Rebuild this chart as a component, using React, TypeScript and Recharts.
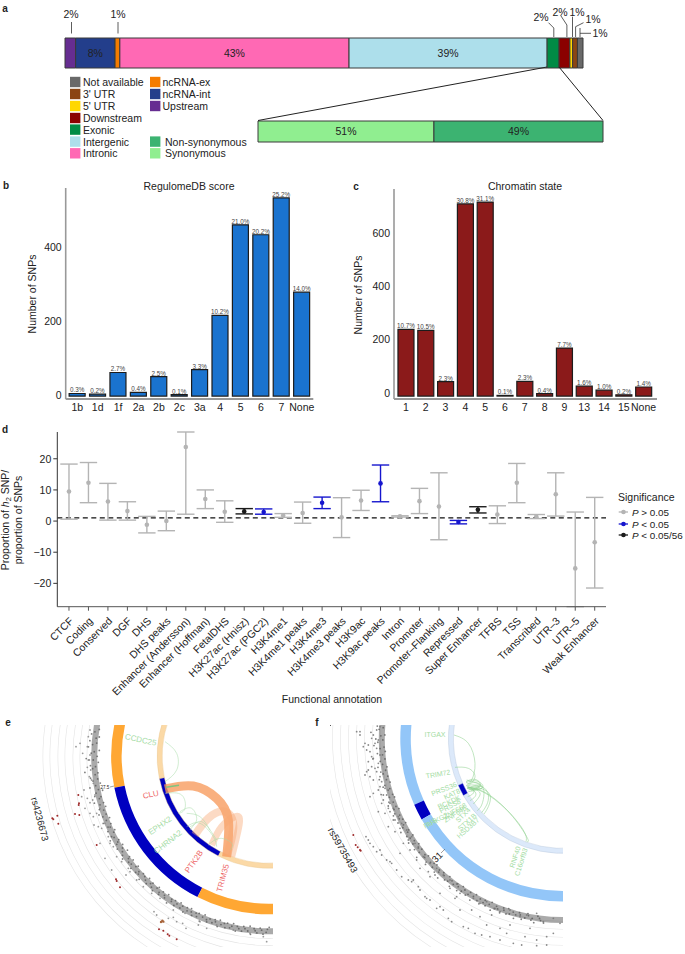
import React from 'react';
import { BarChart, Bar, XAxis, YAxis, LabelList, ComposedChart, Scatter, ErrorBar, ReferenceLine, PieChart, Pie, Cell, Line } from 'recharts';

const FONT = '"Liberation Sans", Arial, sans-serif';

// Panel a
const regionNames = ['Upstream', 'ncRNA-int', 'ncRNA-ex', 'Intronic', 'Intergenic', 'Exonic', 'Downstream', "5' UTR", "3' UTR", 'Not available'];
const regionShares = [2.05, 7.6, 0.93, 44.2, 38.2, 2.3, 2.1, 0.52, 0.93, 1.07];
const regionColors = ['#662D91', '#233E8B', '#F57C00', '#FF69B4', '#ADDFEB', '#008B45', '#8B0000', '#FFD700', '#8B4513', '#696969'];
const regionLabels = ['', '8%', '', '43%', '39%', '', '', '', '', ''];
const exonicNames = ['Synonymous', 'Non-synonymous'];
const exonicShares = [51, 49];
const exonicColors = ['#90EE90', '#3CB371'];
const exonicLabels = ['51%', '49%'];
const legendCol1 = ['Not available', "3' UTR", "5' UTR", 'Downstream', 'Exonic', 'Intergenic', 'Intronic'];
const legendCol1Colors = ['#696969', '#8B4513', '#FFD700', '#8B0000', '#008B45', '#ADDFEB', '#FF69B4'];
const legendCol2 = ['ncRNA-ex', 'ncRNA-int', 'Upstream'];
const legendCol2Colors = ['#F57C00', '#233E8B', '#662D91'];
const legendCol3 = ['Non-synonymous', 'Synonymous'];
const legendCol3Colors = ['#3CB371', '#90EE90'];

// Panel b
const rdbCats = ['1b', '1d', '1f', '2a', '2b', '2c', '3a', '4', '5', '6', '7', 'None'];
const rdbCounts = [7, 5, 64, 10, 53, 4, 72, 219, 465, 438, 538, 282];
const rdbPct = ['0.3%', '0.2%', '2.7%', '0.4%', '2.5%', '0.1%', '3.3%', '10.2%', '21.0%', '20.2%', '25.2%', '14.0%'];
// Panel c
const chromCats = ['1', '2', '3', '4', '5', '6', '7', '8', '9', '13', '14', '15', 'None'];
const chromCounts = [250, 246, 54, 720, 727, 2.5, 55, 9, 180, 37, 22, 5, 34];
const chromPct = ['10.7%', '10.5%', '2.3%', '30.8%', '31.1%', '0.1%', '2.3%', '0.4%', '7.7%', '1.6%', '1.0%', '0.2%', '1.4%'];

// Panel d
const annotNames = ['CTCF', 'Coding', 'Conserved', 'DGF', 'DHS', 'DHS peaks', 'Enhancer (Andersson)', 'Enhancer (Hoffman)', 'FetalDHS', 'H3K27ac (Hnisz)', 'H3K27ac (PGC2)', 'H3K4me1', 'H3K4me1 peaks', 'H3K4me3', 'H3K4me3 peaks', 'H3K9ac', 'H3K9ac peaks', 'Intron', 'Promoter', 'Promoter\u2013Flanking', 'Repressed', 'Super Enhancer', 'TFBS', 'TSS', 'Transcribed', 'UTR\u20133', 'UTR\u20135', 'Weak Enhancer'];
const annotMean = [9.5, 12.3, 6.3, 3.2, -1.2, 0, 23.8, 7.1, 3, 3.1, 2.9, 1.8, 2.6, 5.9, 1.2, 6.6, 12.1, 1.5, 6.4, 4.7, -0.3, 3.6, 2.1, 12.3, 1.5, 8.6, -15.2, -6.8];
const annotLow = [0.6, 5.9, 0.3, 0.3, -3.8, -3.1, 2.2, 4, -0.4, 2.3, 2.2, 1.2, -0.7, 4, -5.3, 3.4, 6.2, 1.3, 2.4, -6, -0.9, 2.6, -0.8, 5.9, 0.8, 1.6, -27.5, -21.5];
const annotHigh = [18.3, 18.8, 12.1, 6.2, 1.5, 3.2, 28.6, 10, 6.5, 4, 3.9, 2.4, 6.1, 7.7, 7.5, 9.9, 18, 1.7, 10.5, 15.5, 0.2, 4.6, 4.9, 18.5, 2.1, 15.5, 2.9, 7.6];
const annotSig = ['n', 'n', 'n', 'n', 'n', 'n', 'n', 'n', 'n', 'k', 'b', 'n', 'n', 'b', 'n', 'n', 'b', 'n', 'n', 'n', 'b', 'k', 'n', 'n', 'n', 'n', 'n', 'n'];
const sigLevels = ['n', 'b', 'k'];
const sigColors = { n: '#B4B4B4', b: '#1616CE', k: '#1C1C1C' };

const annotRows = annotNames.map((name, i) => ({ x: i, y: annotMean[i], name, err: [annotMean[i] - annotLow[i], annotHigh[i] - annotMean[i]], sig: annotSig[i] }));
const annotTicks = annotNames.map((_, i) => i);

// Panel e (circular plot, read in picture units)
const eOuterSectors = [31.5, 51.5, 32];
const eOuterColors = ['#FFA733', '#0000C0', '#FFA733'];
const eInnerColors = ['#FBD9A6', '#0000C0', '#FBD9A6'];
const eGridRadii = [182, 189, 196, 204, 211, 219, 226];
const eBandA = [171,172,172.8,173.5,174,175,175.6,176.2,177,178,178.5,179,180,180.7,181.2,182,183,183.4,184,185,185.5,186,187,187.5,188,189,189.6,190,191,191.5,192,193,193.5,194,195,195.6,196,197,197.4,198,199,199.5,200,201,201.5,202,203,203.7,204,205,205.4,206,207,207.6,208,209,209.5,210,211,211.4,212,213,213.5,214,215,215.7,216,217,217.3,218,219,219.6,220,221,221.5,222,223,223.4,224,225,225.6,226,227,227.5,228,229,229.6,230,231,231.3,232,233,233.5,234,235,235.7,236,237,237.4,238,239,239.5,240,241,241.6,242,243,243.4,244,245,245.6,246,247,247.5,248,249,249.3,250,251,251.7,252,253,253.4,254,255,255.5,256,257,257.6,258,259,259.4,260,261,261.5,262,263,263.6,264,265,265.4,266,267,267.5,268,269,269.4,270];
const eBandR = [172,176,179,171,174,180,173,177,181,170,175,178,172,183,176,171,179,174,177,185,172,175,180,173,178,171,176,182,174,170,177,179,173,175,181,172,176,171,178,174,180,173,177,171,175,179,172,176,174,178,171,173,177,175,180,172,174,176,171,178,173,175,170,177,179,172,174,176,171,175,178,173,171,177,174,176,172,179,173,175,171,177,174,172,176,178,173,171,175,177,172,174,176,171,179,173,175,172,177,174,171,176,173,178,172,175,171,174,177,173,176,172,179,174,171,175,177,173,176,172,174,178,171,175,173,177,172,176,174,171,178,173,175,177,172,174,176,171,179,173,175,177,172,174,178,176,173,171,175,179];
const eOutliers = [[228,200],[240,190],[248,220],[252,330],[262,355],[270,368],[255,385],[282,435],[295,440],[300,490],[315,535],[335,570],[378,585],[390,575],[462,695],[470,705],[505,715],[520,712],[530,725],[548,730],[558,745],[595,735],[620,745],[800,785],[280,410],[270,400],[268,240],[262,262],[275,300],[245,350],[270,150],[265,170],[262,200],[270,225],[265,240],[272,270],[268,290],[280,310],[285,345],[278,360],[300,385],[290,400],[315,430],[305,445],[325,470],[340,500],[330,490],[350,530],[365,545],[385,565],[410,600],[430,620],[455,640],[480,655],[520,690],[555,700],[600,725],[650,735],[700,750],[750,760],[790,770]];
const eHits = [[157,415],[160,418],[172,407],[175,431],[235,345],[237,370],[236,375],[225,402],[238,405],[290,495],[348,598],[350,603],[360,622],[477,748],[490,752],[503,763],[508,767],[530,778]];
const eLeadHits = [[487,722],[490,725],[483,726]];
const eRibbonMain = [[495,327],[580,318],[650,355],[685,420],[680,530]];
const eRibbonB = [[585,465],[625,415],[675,395],[700,440],[680,530]];
const eRibbonC = [[635,495],[665,440],[705,410],[718,430],[695,530]];
const eGreenLinks = [
  [[495,185],[530,220],[530,270],[495,305]],
  [[495,340],[545,345],[555,385],[535,400]],
  [[540,395],[575,385],[590,420],[570,440]],
  [[560,440],[600,430],[640,470],[650,500]],
  [[625,495],[660,475],[695,490],[690,510]],
  [[560,400],[600,410],[630,450]],
  [[570,450],[605,425],[650,480]],
];
const eGreenRibbon = [[498,322],[537,316]];
const eLabels = [
  { t: 'CCDC25', x: 140.7, y: 740, a: 12, c: '#A6DCA6' },
  { t: 'CLU', x: 150.7, y: 794.7, a: -12, c: '#EE6A6A' },
  { t: 'EPHX2', x: 160, y: 825.7, a: -35, c: '#A6DCA6' },
  { t: 'CHRNA2', x: 168, y: 842, a: -38, c: '#A6DCA6' },
  { t: 'PTK2B', x: 194, y: 861.7, a: -55, c: '#EE6A6A' },
  { t: 'TRIM35', x: 223, y: 878, a: -75, c: '#EE6A6A' },
];

// Panel f
const fOuterSectors = [43.9, 5.8, 65.3];
const fOuterColors = ['#93C6F8', '#0000C0', '#93C6F8'];
const fInnerColors = ['#DCE9FA', '#0000C0', '#DCE9FA'];
const fGridRadii = [182, 190, 198, 206, 214, 222, 230, 238, 246];
const fBandA = [171,171.8,172.5,173,174,174.6,175,176,176.4,177,178,178.7,179,180,180.3,181,182,182.6,183,184,184.5,185,186,186.4,187,188,188.7,189,190,190.3,191,192,192.5,193,194,194.6,195,196,196.3,197,198,198.6,199,200,200.4,201,202,202.7,203,204,204.4,205,206,206.6,207,208,208.3,209,210,210.5,211,212,212.6,213,214,214.4,215,216,216.7,217,218,218.3,219,220,220.6,221,222,222.4,223,224,224.5,225,226,226.7,227,228,228.3,229,230,230.6,231,232,232.4,233,234,234.7,235,236,236.3,237,238,238.6,239,240,240.4,241,242,242.7,243,244,244.3,245,246,246.6,247,248,248.4,249,250,250.7,251,252,252.3,253,254,254.6,255,256,256.4,257,258,258.7,259,260,260.3,261,262,262.6,263,264,264.4,265,266,266.7,267,268,268.3,269,269.6];
const fBandR = [181,185,179,188,183,178,190,186,180,184,192,178,182,187,180,185,189,179,183,178,186,181,191,179,184,182,187,178,180,185,183,179,188,181,178,184,186,180,182,190,179,183,178,185,181,187,180,183,178,184,186,180,182,179,185,178,181,183,187,179,181,184,178,182,186,180,183,178,185,181,179,183,188,180,182,178,184,186,181,179,183,178,185,180,182,187,179,181,184,178,183,180,186,182,179,181,185,178,183,180,184,182,179,186,181,178,183,180,185,182,179,184,181,178,186,183,180,182,185,179,181,184,178,183,180,186,182,179,181,185,183,178,180,184,182,186,179,181,183,185];
const fOutliers = [[78,470],[90,490],[100,500],[110,515],[125,525],[140,540],[155,550],[170,570],[185,590],[205,600],[220,600],[235,620],[240,630],[255,650],[270,660],[290,685],[310,690],[325,715],[335,725],[370,740],[385,745],[405,760],[425,765],[450,770],[480,780],[520,790],[545,795],[590,797],[620,795],[70,200],[80,210],[75,285],[90,290],[100,340],[120,320],[125,370],[90,350],[115,395],[135,400],[145,440],[165,455],[190,490],[180,520],[210,510],[230,540],[240,565],[265,575],[270,590],[300,640],[330,625],[350,650],[395,690],[420,710],[455,705],[510,735],[570,745],[620,770],[640,760],[60,155],[50,155],[75,190],[60,165],[95,230],[105,265],[85,270],[130,345],[150,395],[160,420],[85,480],[120,510],[150,545],[215,605],[260,655],[300,680],[345,655],[360,690],[440,735],[480,745],[500,760],[555,770],[590,780],[120,140],[110,150],[100,165],[95,175],[115,180],[105,190],[85,195],[110,205],[90,215],[120,225],[100,235],[85,245],[115,250],[95,260],[80,275],[110,275],[120,290],[100,300],[125,305],[135,325],[115,330],[140,345],[130,360],[150,370],[160,385],[145,385],[175,410],[165,420],[185,430],[200,450],[180,445],[215,470],[205,480],[235,500],[250,530],[225,490],[270,550],[290,565],[310,585],[285,585],[330,600],[350,612],[375,630],[360,640],[400,655],[420,670],[440,665],[465,685],[480,695],[510,690],[540,710],[560,705],[590,700],[610,725],[640,715],[660,730]];
const fHits = [[40,465],[47,495],[53,502],[60,510],[62,512]];
const fLinks = [
  [[342,165],[385,190],[405,250],[395,300],[378,318]],
  [[345,262],[385,265],[405,290],[385,318]],
  [[385,322],[440,340],[510,400],[560,470],[562,485]],
  [[385,320],[445,345],[515,405],[555,460],[558,485]],
  [[382,325],[420,315],[432,340],[425,375],[412,392]],
  [[382,325],[425,320],[445,345],[440,375],[425,398]],
  [[382,325],[420,325],[450,345],[445,380],[432,402]],
  [[382,322],[410,330],[420,345],[400,372]],
  [[382,322],[405,335],[405,350],[390,362]],
  [[380,318],[400,330],[398,342],[383,350]],
  [[378,305],[405,298],[420,315],[385,330]],
  [[378,308],[410,303],[428,322],[385,335]],
  [[380,300],[412,310],[425,325],[388,328]],
  [[380,312],[408,308],[422,318],[392,332]],
  [[382,316],[405,315],[418,322],[395,330]],
];
const fLabels = [
  { t: 'ITGAX', x: 435, y: 734.5, a: 0, s: 7 },
  { t: 'TRIM72', x: 438, y: 774, a: -10, s: 7 },
  { t: 'PRSS36', x: 444, y: 789, a: -22, s: 7 },
  { t: 'KAT8', x: 452, y: 794, a: -25, s: 7 },
  { t: 'BCKDK', x: 449, y: 802, a: -25, s: 7 },
  { t: 'PRSS8', x: 450, y: 806, a: -28, s: 7 },
  { t: 'ZNF668', x: 455, y: 811, a: -30, s: 7 },
  { t: 'ZNF646', x: 455, y: 814, a: -32, s: 7 },
  { t: 'FUS', x: 430, y: 823, a: -30, s: 7 },
  { t: 'PHKG2', x: 437, y: 820, a: -30, s: 7 },
  { t: 'STX4', x: 463, y: 815, a: -45, s: 7 },
  { t: 'STX1B', x: 467, y: 822, a: -42, s: 7 },
  { t: 'HSD3B7', x: 468, y: 828, a: -42, s: 7 },
  { t: 'RNF40', x: 515, y: 857, a: -72, s: 7 },
  { t: 'C16orf93', x: 521, y: 862, a: -72, s: 7 },
];

const axisTick = { fontSize: 10.5, fill: '#222', fontFamily: FONT };
const toRows = (cats: string[], vals: number[], pct: string[]) => cats.map((c, i) => ({ c, v: vals[i], p: pct[i] }));
const toXY = (pts: number[][]) => pts.map(([x, y]) => ({ x, y }));
const polar = (cx: number, cy: number, A: number[], R: number[]) => A.map((a, i) => ({
  x: cx + 3 * R[i] * Math.cos((a * Math.PI) / 180),
  y: cy - 3 * R[i] * Math.sin((a * Math.PI) / 180),
}));

const abs = (left: number, top: number, width: number, height: number): React.CSSProperties => ({ position: 'absolute', left, top, width, height, overflow: 'hidden' });

function PctBars({ rows, left, top, w, h, yW, xH, mTop, mRight, dom, ticks, fill, dy, pad, gap }: any) {
  return (
    <div style={abs(left, top, w, h)}>
      <BarChart width={w} height={h} data={rows} margin={{ top: mTop, right: mRight, left: 0, bottom: 0 }} barCategoryGap={gap}>
        <XAxis dataKey="c" interval={0} height={xH} tickLine={false} tickSize={0} tickMargin={5} padding={pad} axisLine={{ stroke: '#333', strokeWidth: 1 }} tick={axisTick} />
        <YAxis type="number" domain={dom} ticks={ticks} width={yW} tickLine={false} tickSize={0} tickMargin={4} axisLine={{ stroke: '#999', strokeWidth: 1.6 }} tick={{ ...axisTick, dy }} />
        <Bar dataKey="v" fill={fill} stroke="#1c1c1c" strokeWidth={1.2} isAnimationActive={false}>
          <LabelList dataKey="p" position="top" offset={1} style={{ fontSize: 6.3, fill: '#444', fontFamily: FONT }} />
        </Bar>
      </BarChart>
    </div>
  );
}

function Stack({ names, shares, colors, labels, left, top, w, h }: any) {
  const row: any = { k: 'all' };
  names.forEach((n: string, i: number) => { row[n] = shares[i]; });
  const total = shares.reduce((a: number, b: number) => a + b, 0);
  return (
    <div style={abs(left, top, w, h)}>
      <BarChart layout="vertical" width={w} height={h} data={[row]} margin={{ top: 1, right: 1, left: 1, bottom: 1 }} barCategoryGap={0}>
        <XAxis type="number" hide domain={[0, total]} />
        <YAxis type="category" dataKey="k" hide />
        {names.map((n: string, i: number) => (
          <Bar key={n} dataKey={n} stackId="s" fill={colors[i]} stroke="#3a3a3a" strokeWidth={1} isAnimationActive={false}>
            {labels[i] ? <LabelList dataKey={n} position="center" formatter={() => labels[i]} style={{ fontSize: 10.5, fill: '#222', fontFamily: FONT }} /> : null}
          </Bar>
        ))}
      </BarChart>
    </div>
  );
}

const dotShape = (r: number, fill: string, opacity = 1) => (p: any) => <circle cx={p.cx} cy={p.cy} r={r} fill={fill} fillOpacity={opacity} />;

function Rings({ cx, cy, w, h, outer, inner, sectors, grid, innerEdge, ringOut, ringIn, band }: any) {
  const rows = sectors.map((v: number, i: number) => ({ i, v }));
  const whole = [{ v: 1 }];
  return (
    <PieChart width={w} height={h} margin={{ top: 0, right: 0, left: 0, bottom: 0 }} style={{ position: 'absolute', left: 0, top: 0 }}>
      {grid.map((r: number) => (
        <Pie key={r} data={whole} dataKey="v" cx={cx} cy={cy} innerRadius={r} outerRadius={r + 0.6} startAngle={150} endAngle={290} stroke="none" fill="#E4E4E4" isAnimationActive={false} />
      ))}
      <Pie data={whole} dataKey="v" cx={cx} cy={cy} innerRadius={band[0]} outerRadius={band[1]} startAngle={150} endAngle={290} stroke="none" fill="#555" fillOpacity={0.5} isAnimationActive={false} />
      <Pie data={rows} dataKey="v" cx={cx} cy={cy} innerRadius={ringOut[0]} outerRadius={ringOut[1]} startAngle={160} endAngle={275} stroke="none" isAnimationActive={false}>
        {outer.map((c: string, i: number) => <Cell key={i} fill={c} />)}
      </Pie>
      <Pie data={rows} dataKey="v" cx={cx} cy={cy} innerRadius={ringIn[0]} outerRadius={ringIn[1]} startAngle={160} endAngle={275} stroke={innerEdge} strokeWidth={0.4} isAnimationActive={false}>
        {inner.map((c: string, i: number) => <Cell key={i} fill={c} />)}
      </Pie>
    </PieChart>
  );
}

function Links({ w, h, xDom, yDom, children }: any) {
  return (
    <ComposedChart width={w} height={h} margin={{ top: 0, right: 0, left: 0, bottom: 0 }} style={{ position: 'absolute', left: 0, top: 0 }}>
      <XAxis type="number" dataKey="x" hide domain={xDom} allowDataOverflow />
      <YAxis type="number" dataKey="y" hide domain={yDom} reversed allowDataOverflow />
      {children}
    </ComposedChart>
  );
}

const curve = (pts: number[][], stroke: string, width: number, opacity: number, key: string) => (
  <Line key={key} data={toXY(pts)} dataKey="y" type="natural" stroke={stroke} strokeWidth={width} strokeOpacity={opacity} dot={false} legendType="none" strokeLinecap="butt" isAnimationActive={false} />
);
const points = (rows: any[], r: number, fill: string, opacity: number, key: string) => (
  <Scatter key={key} data={rows} dataKey="y" shape={dotShape(r, fill, opacity)} isAnimationActive={false} />
);

const Txt = ({ x, y, a = 0, s = 10.5, c = '#222', w = 'normal', anchor = 'middle', children }: any) => (
  <text x={x} y={y} fontSize={s} fill={c} fontWeight={w} textAnchor={anchor} dominantBaseline="central" fontFamily={FONT} transform={a ? `rotate(${a} ${x} ${y})` : undefined}>{children}</text>
);

export default function App() {
  const rdbRows = toRows(rdbCats, rdbCounts, rdbPct);
  const chromRows = toRows(chromCats, chromCounts, chromPct);
  return (
    <div style={{ position: 'absolute', left: 0, top: 0, width: 685, height: 954, background: '#fff', overflow: 'hidden', fontFamily: FONT }}>
      <Stack names={regionNames} shares={regionShares} colors={regionColors} labels={regionLabels} left={64} top={36.5} w={520} h={32} />
      <Stack names={exonicNames} shares={exonicShares} colors={exonicColors} labels={exonicLabels} left={257} top={120} w={347} h={23} />

      <PctBars rows={rdbRows} left={0} top={170} w={340} h={245} yW={65.7} xH={16} mTop={18} mRight={26.7} dom={[-8, 565]} ticks={[0, 200, 400]} fill="#1A73CF" dy={-1} pad={{ left: 1.4, right: 1.3 }} gap="10%" />
      <PctBars rows={chromRows} left={340} top={170} w={345} h={245} yW={54} xH={16} mTop={19} mRight={28} dom={[-11, 776]} ticks={[0, 200, 400, 600]} fill="#8B1A1A" dy={-3} pad={{ left: 2, right: 3.5 }} gap="10%" />

      <div style={abs(0, 415, 685, 290)}>
        <ComposedChart width={685} height={290} margin={{ top: 17, right: 79, left: 0, bottom: 0 }}>
          <XAxis type="number" dataKey="x" domain={[-0.6, 27.58]} ticks={annotTicks} interval={0} height={98.3} tickSize={4} axisLine={{ stroke: '#555' }} tickLine={{ stroke: '#555' }}
            tick={(p: any) => (
              <text x={p.x + 5} y={p.y + 9} transform={`rotate(-45 ${p.x + 5} ${p.y + 9})`} textAnchor="end" fontSize={10.5} fill="#222" fontFamily={FONT}>{annotNames[p.payload.value]}</text>
            )} />
          <YAxis type="number" dataKey="y" domain={[-27.5, 27.4]} ticks={[-20, -10, 0, 10, 20]} width={57.3} tickSize={4} tickFormatter={(v: number) => (v < 0 ? `\u2212${-v}` : `${v}`)} axisLine={{ stroke: '#333' }} tickLine={{ stroke: '#333' }} tick={axisTick} />
          <ReferenceLine y={1.05} stroke="#111" strokeWidth={1.3} strokeDasharray="5 3.5" />
          {sigLevels.map((lv) => (
            <Scatter key={lv} data={annotRows.filter((r) => r.sig === lv)} dataKey="y" shape={dotShape(2.3, (sigColors as any)[lv])} isAnimationActive={false}>
              <ErrorBar dataKey="err" direction="y" width={8.7} stroke={(sigColors as any)[lv]} strokeWidth={1.4} isAnimationActive={false} />
            </Scatter>
          ))}
        </ComposedChart>
      </div>

      <div style={abs(0, 725, 273, 222)}>
        <Rings cx={269.2} cy={31.3} w={273} h={222} outer={eOuterColors} inner={eInnerColors} sectors={eOuterSectors} grid={eGridRadii} innerEdge="#E8C48E" ringOut={[147.5, 158]} ringIn={[107, 112]} band={[172, 178]} />
        <Links w={273} h={222} xDom={[0, 819]} yDom={[135, 801]}>
          {curve(eRibbonMain, '#F79A5B', 9, 0.78, 'm')}
          {curve(eRibbonB, '#F7A873', 8, 0.42, 'rb')}
          {curve(eRibbonC, '#F7A873', 7, 0.42, 'rc')}
          {eGreenLinks.map((l, i) => curve(l, '#A6DCA6', 0.6, 0.85, `g${i}`))}
          {curve(eGreenRibbon, '#7FC47F', 1.5, 1, 'gr')}
          {points(polar(807.6, 229, eBandA, eBandR), 0.9, '#555', 0.75, 'band')}
          {points(toXY(eOutliers), 0.9, '#888', 0.85, 'out')}
          {points(toXY(eHits), 1, '#A02B2B', 1, 'hit')}
          {points(toXY(eLeadHits), 1.2, '#A8643A', 1, 'lead')}
        </Links>
      </div>

      <div style={abs(330, 725, 233, 222)}>
        <Rings cx={232.8} cy={14} w={233} h={222} outer={fOuterColors} inner={fInnerColors} sectors={fOuterSectors} grid={fGridRadii} innerEdge="#B5C4D8" ringOut={[152, 162.5]} ringIn={[109.4, 114.4]} band={[178, 184]} />
        <Links w={233} h={222} xDom={[-30, 669]} yDom={[135, 801]}>
          {fLinks.map((l, i) => curve(l, '#8ED08E', 0.6, 0.9, `f${i}`))}
          {points(polar(668.5, 177, fBandA, fBandR), 0.9, '#555', 0.75, 'band')}
          {points(toXY(fOutliers), 0.9, '#777', 0.85, 'out')}
          {points(toXY(fHits), 1, '#A02B2B', 1, 'hit')}
        </Links>
      </div>

      <svg width={685} height={954} style={{ position: 'absolute', left: 0, top: 0, pointerEvents: 'none' }}>
        <Txt x={5} y={8} w="bold" s={10}>a</Txt>
        <Txt x={6} y={185} w="bold" s={10}>b</Txt>
        <Txt x={356} y={186} w="bold" s={10}>c</Txt>
        <Txt x={5} y={429} w="bold" s={10}>d</Txt>
        <Txt x={8} y={722} w="bold" s={10}>e</Txt>
        <Txt x={317} y={722} w="bold" s={10}>f</Txt>

        <Txt x={71} y={13.5}>2%</Txt>
        <Txt x={118} y={13.5}>1%</Txt>
        <Txt x={541} y={17}>2%</Txt>
        <Txt x={560} y={12}>2%</Txt>
        <Txt x={577} y={12}>1%</Txt>
        <Txt x={593} y={19}>1%</Txt>
        <Txt x={600} y={33}>1%</Txt>
        <g fill="none" stroke="#333" strokeWidth={0.8}>
          <polyline points="71.5,22 71.5,33.5" />
          <polyline points="118,22 118,33.5" />
          <polyline points="548.5,22.7 553.8,28 553.8,37" />
          <polyline points="561,16 566.9,25 566.9,37" />
          <polyline points="572.5,16.7 572.5,37" />
          <polyline points="583.5,22.7 575.6,26.7 575.6,37" />
          <polyline points="591,33.3 580,33.3" />
          <polyline points="580,28 580,37" />
        </g>
        <g stroke="#222" strokeWidth={1}>
          <line x1={547} y1={67} x2={258} y2={120.5} />
          <line x1={559} y1={67} x2={603} y2={120.5} />
        </g>
        {legendCol1.map((t, i) => (
          <g key={t}>
            <rect x={70} y={[82, 94, 106, 118, 129.6, 141.6, 153.3][i] - 5.2} width={10.4} height={10.4} fill={legendCol1Colors[i]} />
            <Txt x={83} y={[82, 94, 106, 118, 129.6, 141.6, 153.3][i]} anchor="start">{t}</Txt>
          </g>
        ))}
        {legendCol2.map((t, i) => (
          <g key={t}>
            <rect x={150} y={[82, 94, 106][i] - 5.2} width={10.4} height={10.4} fill={legendCol2Colors[i]} />
            <Txt x={162.5} y={[82, 94, 106][i]} anchor="start">{t}</Txt>
          </g>
        ))}
        {legendCol3.map((t, i) => (
          <g key={t}>
            <rect x={150} y={[141.6, 153.3][i] - 5.2} width={10.4} height={10.4} fill={legendCol3Colors[i]} />
            <Txt x={165} y={[141.6, 153.3][i]} anchor="start">{t}</Txt>
          </g>
        ))}

        <Txt x={189} y={186}>RegulomeDB score</Txt>
        <Txt x={32} y={294} a={-90}>Number of SNPs</Txt>
        <Txt x={525} y={186}>Chromatin state</Txt>
        <Txt x={358} y={295} a={-90}>Number of SNPs</Txt>

        <text transform="translate(9 520) rotate(-90)" fontSize={10.5} fill="#222" textAnchor="middle" fontFamily={FONT}>Proportion of <tspan fontStyle="italic">h</tspan><tspan dy={2} fontSize={7.5}>2</tspan><tspan dy={-2}> SNP/</tspan></text>
        <Txt x={18} y={520} a={-90}>proportion of SNPs</Txt>
        <Txt x={332} y={699}>Functional annotation</Txt>

        <Txt x={618} y={497} anchor="start">Significance</Txt>
        {sigLevels.map((lv, i) => {
          const y = [512, 524, 535][i];
          const col = (sigColors as any)[lv];
          const tail = ['> 0.05', '< 0.05', '< 0.05/56'][i];
          return (
            <g key={lv}>
              <line x1={618.7} x2={628} y1={y} y2={y} stroke={col} strokeWidth={1.3} />
              <circle cx={623.5} cy={y} r={2.3} fill={col} />
              <text x={632} y={y} dominantBaseline="central" fontSize={9.9} fill="#222" fontFamily={FONT}><tspan fontStyle="italic">P</tspan> {tail}</text>
            </g>
          );
        })}

        {eLabels.map((l) => <Txt key={l.t} x={l.x} y={l.y} a={l.a} s={8} c={l.c}>{l.t}</Txt>)}
        <Txt x={40} y={819} a={75} s={9.5}>rs4236673</Txt>
        <Txt x={105} y={787} s={4.5}>27.5</Txt>
        <line x1={110} y1={787} x2={114} y2={786} stroke="#444" strokeWidth={0.5} />

        {fLabels.map((l) => <Txt key={l.t} x={l.x} y={l.y} a={l.a} s={l.s} c="#A3DCA3">{l.t}</Txt>)}
        <Txt x={343} y={850} a={60} s={9.5}>rs59735493</Txt>
        <Txt x={437} y={857} a={-45} s={9.5}>31</Txt>
        <line x1={441} y1={853} x2={445} y2={849} stroke="#444" strokeWidth={0.5} />
      </svg>
    </div>
  );
}
